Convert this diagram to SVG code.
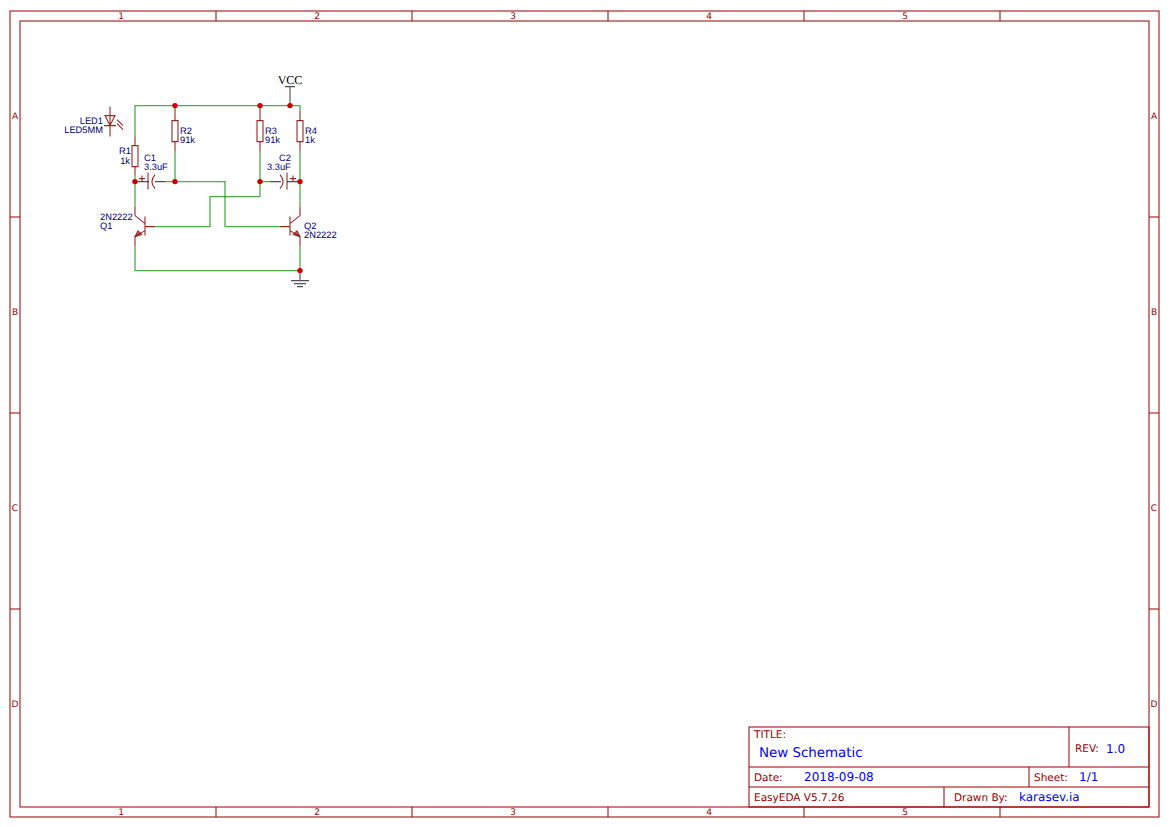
<svg xmlns="http://www.w3.org/2000/svg" width="1169" height="827" viewBox="0 0 1169 827">
<style>
text{text-rendering:geometricPrecision}
.f{fill:none;stroke:#990000;stroke-width:1}
.ft{font-family:"DejaVu Sans",sans-serif;fill:#990000;font-size:9px;text-anchor:middle}
.tl{font-family:"DejaVu Sans",sans-serif;fill:#990000;font-size:10.5px}
.tv{font-family:"DejaVu Sans",sans-serif;fill:#0000ff;font-size:12px}
.w{fill:none;stroke:#008800;stroke-width:1.3;stroke-opacity:.7}
.p{fill:none;stroke:#880000;stroke-width:1.1;stroke-opacity:.85}
.a{fill:#880000;fill-opacity:.6;stroke:#880000;stroke-width:.8}
.d{fill:none;stroke:#333333;stroke-width:1.1;stroke-opacity:.85}
.j{fill:#cc0000}
.l{font-family:"Liberation Sans",Arial,sans-serif;font-size:9.3px;fill:#000080}
.e{text-anchor:end}
</style>
<rect width="1169" height="827" fill="#ffffff"/>
<g id="frame">
<rect class="f" x="10" y="11" width="1149" height="806"/>
<rect class="f" x="20" y="21" width="1129" height="786"/>
<path class="f" d="M216 11V21M412 11V21M608 11V21M804 11V21M1000 11V21M216 807V817M412 807V817M608 807V817M804 807V817M1000 807V817M10 217H20M10 413H20M10 609H20M1149 217H1159M1149 413H1159M1149 609H1159"/>
<text class="ft" x="121" y="19">1</text><text class="ft" x="317" y="19">2</text><text class="ft" x="513" y="19">3</text><text class="ft" x="709" y="19">4</text><text class="ft" x="905" y="19">5</text>
<text class="ft" x="121" y="815">1</text><text class="ft" x="317" y="815">2</text><text class="ft" x="513" y="815">3</text><text class="ft" x="709" y="815">4</text><text class="ft" x="905" y="815">5</text>
<text class="ft" x="15" y="119">A</text><text class="ft" x="15" y="315">B</text><text class="ft" x="15" y="511">C</text><text class="ft" x="15" y="707">D</text>
<text class="ft" x="1154" y="119">A</text><text class="ft" x="1154" y="315">B</text><text class="ft" x="1154" y="511">C</text><text class="ft" x="1154" y="707">D</text>
</g>
<g id="title-block">
<rect class="f" x="749" y="727" width="400" height="80"/>
<path class="f" d="M749 767H1149M749 787H1149M1069 727V767M1029 767V787M944 787V807"/>
<text class="tl" x="754" y="738">TITLE:</text>
<text class="tv" x="759" y="757" style="font-size:13.4px">New Schematic</text>
<text class="tl" x="1075" y="752">REV:</text>
<text class="tv" x="1106" y="753">1.0</text>
<text class="tl" x="754" y="781">Date:</text>
<text class="tv" x="804" y="781">2018-09-08</text>
<text class="tl" x="1034" y="781">Sheet:</text>
<text class="tv" x="1079" y="781">1/1</text>
<text class="tl" x="754" y="801">EasyEDA V5.7.26</text>
<text class="tl" x="954" y="801">Drawn By:</text>
<text class="tv" x="1019" y="801">karasev.ia</text>
</g>
<g id="connectors" transform="translate(0,0.6)">
<path class="w" d="M135 136V105H300V110"/>
<path class="w" d="M175 151V181M260 151V181M300 151V206M135 175V206"/>
<path class="w" d="M165 181H225V226H280"/>
<path class="w" d="M155 226H210V196H260V181H270"/>
<path class="w" d="M135 246V270H300V246"/>
</g>
<g id="LED1">
<path class="p" transform="translate(0,0.6)" d="M110 106V136M105 115H115L110 125ZM104 125H116M117 119L123 125M117 123L123 129"/>
<text class="l e" x="103" y="124">LED1</text><text class="l e" x="103" y="133">LED5MM</text>
</g>
<g id="R1"><path class="p" transform="translate(0,0.6)" d="M135 136V145M135 166V175M132 145H138V166H132Z"/><text class="l e" x="131" y="154">R1</text><text class="l e" x="130" y="164">1k</text></g>
<g id="R2"><path class="p" transform="translate(0,0.6)" d="M175 105V120M175 141V151M172 120H178V141H172Z"/><text class="l" x="180" y="134">R2</text><text class="l" x="180" y="143">91k</text></g>
<g id="R3"><path class="p" transform="translate(0,0.6)" d="M260 105V120M260 141V151M257 120H263V141H257Z"/><text class="l" x="265" y="134">R3</text><text class="l" x="265" y="143">91k</text></g>
<g id="R4"><path class="p" transform="translate(0,0.6)" d="M300 110V120M300 141V151M297 120H303V141H297Z"/><text class="l" x="305" y="134">R4</text><text class="l" x="305" y="143">1k</text></g>
<g id="C1"><path class="d" transform="translate(0,0.6)" d="M135 181H149M155 181H165"/><path class="p" transform="translate(0,0.6)" d="M148 172V189M155 174Q149 181 155 188M139 178H145M142 175V181"/><text class="l" x="144" y="161">C1</text><text class="l" x="144" y="170">3.3uF</text></g>
<g id="C2"><path class="d" transform="translate(0,0.6)" d="M270 181H281M287 181H300"/><path class="p" transform="translate(0,0.6)" d="M287 172V189M280 174Q286 181 280 188M290 178H296M293 175V181"/><text class="l" x="279" y="161">C2</text><text class="l" x="267" y="170">3.3uF</text></g>
<g id="Q1"><path class="p" transform="translate(0,0.6)" d="M135 206V215L145 223M145 216V235M145 226H155M145 230L135 236V246"/><path class="a" transform="translate(0,0.6)" d="M135 236L142 234L138 230Z"/><text class="l" x="100" y="220">2N2222</text><text class="l" x="100" y="229">Q1</text></g>
<g id="Q2"><path class="p" transform="translate(0,0.6)" d="M300 206V215L290 223M290 216V235M290 226H280M290 230L300 236V246"/><path class="a" transform="translate(0,0.6)" d="M300 236L293 234L297 230Z"/><text class="l" x="304" y="229">Q2</text><text class="l" x="304" y="238">2N2222</text></g>
<g id="VCC"><path class="d" transform="translate(0,0.6)" d="M285 86H295M290 86V105"/><text x="290" y="84" text-anchor="middle" style="font-family:'Liberation Serif',serif;font-size:12px;fill:#000000">VCC</text></g>
<g id="GND"><path class="d" transform="translate(0,0.6)" d="M300 270V280M291 280H309M294 283H306M297 286H303"/></g>
<g id="junctions" transform="translate(0,0.6)">
<circle class="j" cx="175" cy="105" r="2.7"/><circle class="j" cx="260" cy="105" r="2.7"/><circle class="j" cx="290" cy="105" r="2.7"/>
<circle class="j" cx="135" cy="181" r="2.7"/><circle class="j" cx="175" cy="181" r="2.7"/><circle class="j" cx="260" cy="181" r="2.7"/><circle class="j" cx="300" cy="181" r="2.7"/><circle class="j" cx="300" cy="270" r="2.7"/>
</g>
</svg>
